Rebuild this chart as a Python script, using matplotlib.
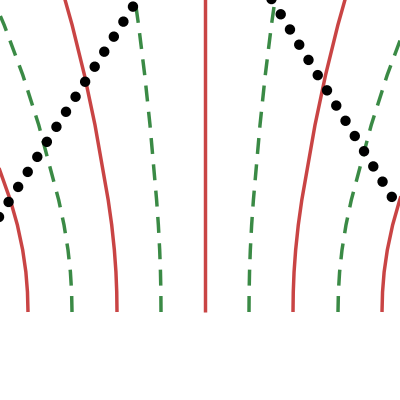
import numpy as np
import matplotlib.pyplot as plt

# vertical profile: height above base vs. widening factor
height = np.array([0, 20, 40, 62, 87, 112, 137, 162, 187, 212, 237, 262, 287, 312, 400])
widen = np.array([1.0, 1.003, 1.012, 1.03, 1.06, 1.10, 1.15, 1.20, 1.25, 1.31,
                  1.37, 1.44, 1.51, 1.59, 1.85])

red_offsets = [-177, -88, 0, 88, 177]
green_offsets = [-133, -44, 44, 133]

# dotted lines: (offset, height) endpoints, running past the frame
dot_left_x = [-220, -50]
dot_left_h = [73, 340]
dot_right_x = [50, 210]
dot_right_h = [340, 77]

fig = plt.figure(figsize=(4, 4), dpi=100)
ax = fig.add_axes([0, 0, 1, 1])

for x0 in red_offsets:
    ax.plot(x0 * widen, height, color='#c94444', lw=2.5, solid_capstyle='butt')
for x0 in green_offsets:
    ax.plot(x0 * widen, height, color='#3a8a45', lw=2.5, ls=(0, (4.6, 3.0)))
ax.plot(dot_left_x, dot_left_h, color='black', lw=7.5, ls=(0, (0.01, 1.7)),
        dash_capstyle='round')
ax.plot(dot_right_x, dot_right_h, color='black', lw=7.5, ls=(0, (0.01, 1.7)),
        dash_capstyle='round')

ax.set_xlim(-205, 195)
ax.set_ylim(-88, 312)
ax.axis('off')
fig.savefig('out.png')
